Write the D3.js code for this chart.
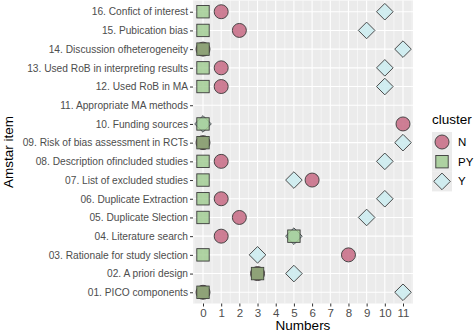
<!DOCTYPE html>
<html><head><meta charset="utf-8">
<script src="https://cdn.jsdelivr.net/npm/d3@7"></script>
<style>body{margin:0;background:#fff;} text{font-family:"Liberation Sans",Arial,sans-serif;}</style>
</head><body><svg id="c" width="474" height="333"></svg>
<script>
const items = ["01. PICO components","02. A priori design","03. Rationale for study slection","04. Literature search","05. Duplicate Slection","06. Duplicate Extraction","07. List of excluded studies","08. Description ofincluded studies","09. Risk of bias assessment in RCTs","10. Funding sources","11. Appropriate MA methods","12. Used RoB in MA","13. Used RoB in interpreting results","14. Discussion ofheterogeneity","15. Pubication bias","16. Confict of interest"];
const valuesN  = [0, 3, 8, 1, 2, 1, 6, 1, 0, 11, null, 1, 1, 0, 2, 1];
const valuesPY = [0, 3, 0, 5, 0, 0, 0, 0, 0, 0, null, 0, 0, 0, 0, 0];
const valuesY  = [11, 5, 3, 5, 9, 10, 5, 10, 11, 0, null, 10, 10, 11, 9, 10];
const clusters = ["N","PY","Y"];
const xTicks = [0,1,2,3,4,5,6,7,8,9,10,11];

const svg = d3.select("#c");
const L = 193, R = 413, T = 0.5, B = 303.5;
const x = d3.scaleLinear().domain([-0.55, 11.55]).range([L, R]);
const y = d3.scalePoint().domain(items.slice().reverse()).range([T, B]).padding(0.6);

svg.append("rect").attr("x", L).attr("y", T).attr("width", R - L).attr("height", B - T).attr("fill", "#ebebeb");
const g = svg.append("g");
d3.range(-0.5, 11.6, 1).forEach(v => g.append("line").attr("x1", x(v)).attr("x2", x(v)).attr("y1", T).attr("y2", B).attr("stroke", "#fff").attr("stroke-width", 0.5));
xTicks.forEach(v => g.append("line").attr("x1", x(v)).attr("x2", x(v)).attr("y1", T).attr("y2", B).attr("stroke", "#fff").attr("stroke-width", 1.1));
items.forEach(it => g.append("line").attr("x1", L).attr("x2", R).attr("y1", y(it)).attr("y2", y(it)).attr("stroke", "#fff").attr("stroke-width", 1.1));

const xa = svg.append("g").attr("transform", `translate(0,${B})`).call(d3.axisBottom(x).tickValues(xTicks).tickSize(3).tickPadding(2));
xa.select(".domain").remove();
xa.selectAll("line").attr("stroke", "#333");
xa.selectAll("text").attr("fill", "#4d4d4d").style("font-size", "11.5px").style("font-family", "Liberation Sans, Arial, sans-serif");
const ya = svg.append("g").attr("transform", `translate(${L},0)`).call(d3.axisLeft(y).tickSize(3).tickPadding(2));
ya.select(".domain").remove();
ya.selectAll("line").attr("stroke", "#333");
ya.selectAll("text").attr("fill", "#4d4d4d").style("font-size", "10.2px").style("font-family", "Liberation Sans, Arial, sans-serif");

svg.append("text").attr("x", x(5.5)).attr("y", 330).attr("text-anchor", "middle").style("font-size", "13.5px").text("Numbers");
svg.append("text").attr("transform", `translate(13,${(T + B) / 2}) rotate(-90)`).attr("text-anchor", "middle").style("font-size", "13.5px").text("Amstar item");

const fills = {N: "#c9718a", PY: "#a2cd94", Y: "#cdecf0"};
const stroke = "#3a3a3a";
function shape(sel, c, cx, cy) {
  if (c === "N") sel.append("circle").attr("cx", cx).attr("cy", cy).attr("r", 7).attr("fill", fills.N).attr("stroke", stroke).attr("stroke-width", 0.9).attr("fill-opacity", 0.9);
  else if (c === "PY") sel.append("rect").attr("x", cx - 6.2).attr("y", cy - 6.2).attr("width", 12.4).attr("height", 12.4).attr("fill", fills.PY).attr("stroke", stroke).attr("stroke-width", 0.9).attr("fill-opacity", 0.85);
  else sel.append("path").attr("d", `M${cx},${cy - 8.3}L${cx + 8.3},${cy}L${cx},${cy + 8.3}L${cx - 8.3},${cy}Z`).attr("fill", fills.Y).attr("stroke", stroke).attr("stroke-width", 0.9).attr("fill-opacity", 0.9);
}
const pts = svg.append("g");
const series = {N: valuesN, PY: valuesPY, Y: valuesY};
["Y", "N", "PY"].forEach(c => {
  series[c].forEach((v, i) => {
    if (v === null) return;
    shape(pts, c, x(v), y(items[i]));
  });
});
items.forEach((it, i) => {
  if (valuesN[i] !== null && valuesN[i] === valuesPY[i]) {
    pts.append("rect").attr("x", x(valuesPY[i]) - 6.2).attr("y", y(it) - 6.2).attr("width", 12.4).attr("height", 12.4).attr("fill", "#5f6a45").attr("fill-opacity", 0.35);
  }
});

svg.append("text").attr("x", 432).attr("y", 124).style("font-size", "13.5px").text("cluster");
clusters.forEach((c, i) => {
  const cy = 142 + i * 19.7;
  svg.append("rect").attr("x", 432).attr("y", cy - 10).attr("width", 20).attr("height", 20).attr("fill", "#ebebeb");
  shape(svg, c, 442, cy);
  svg.append("text").attr("x", 458).attr("y", cy + 4).style("font-size", "11.5px").attr("fill", "#000").text(c);
});
</script></body></html>
